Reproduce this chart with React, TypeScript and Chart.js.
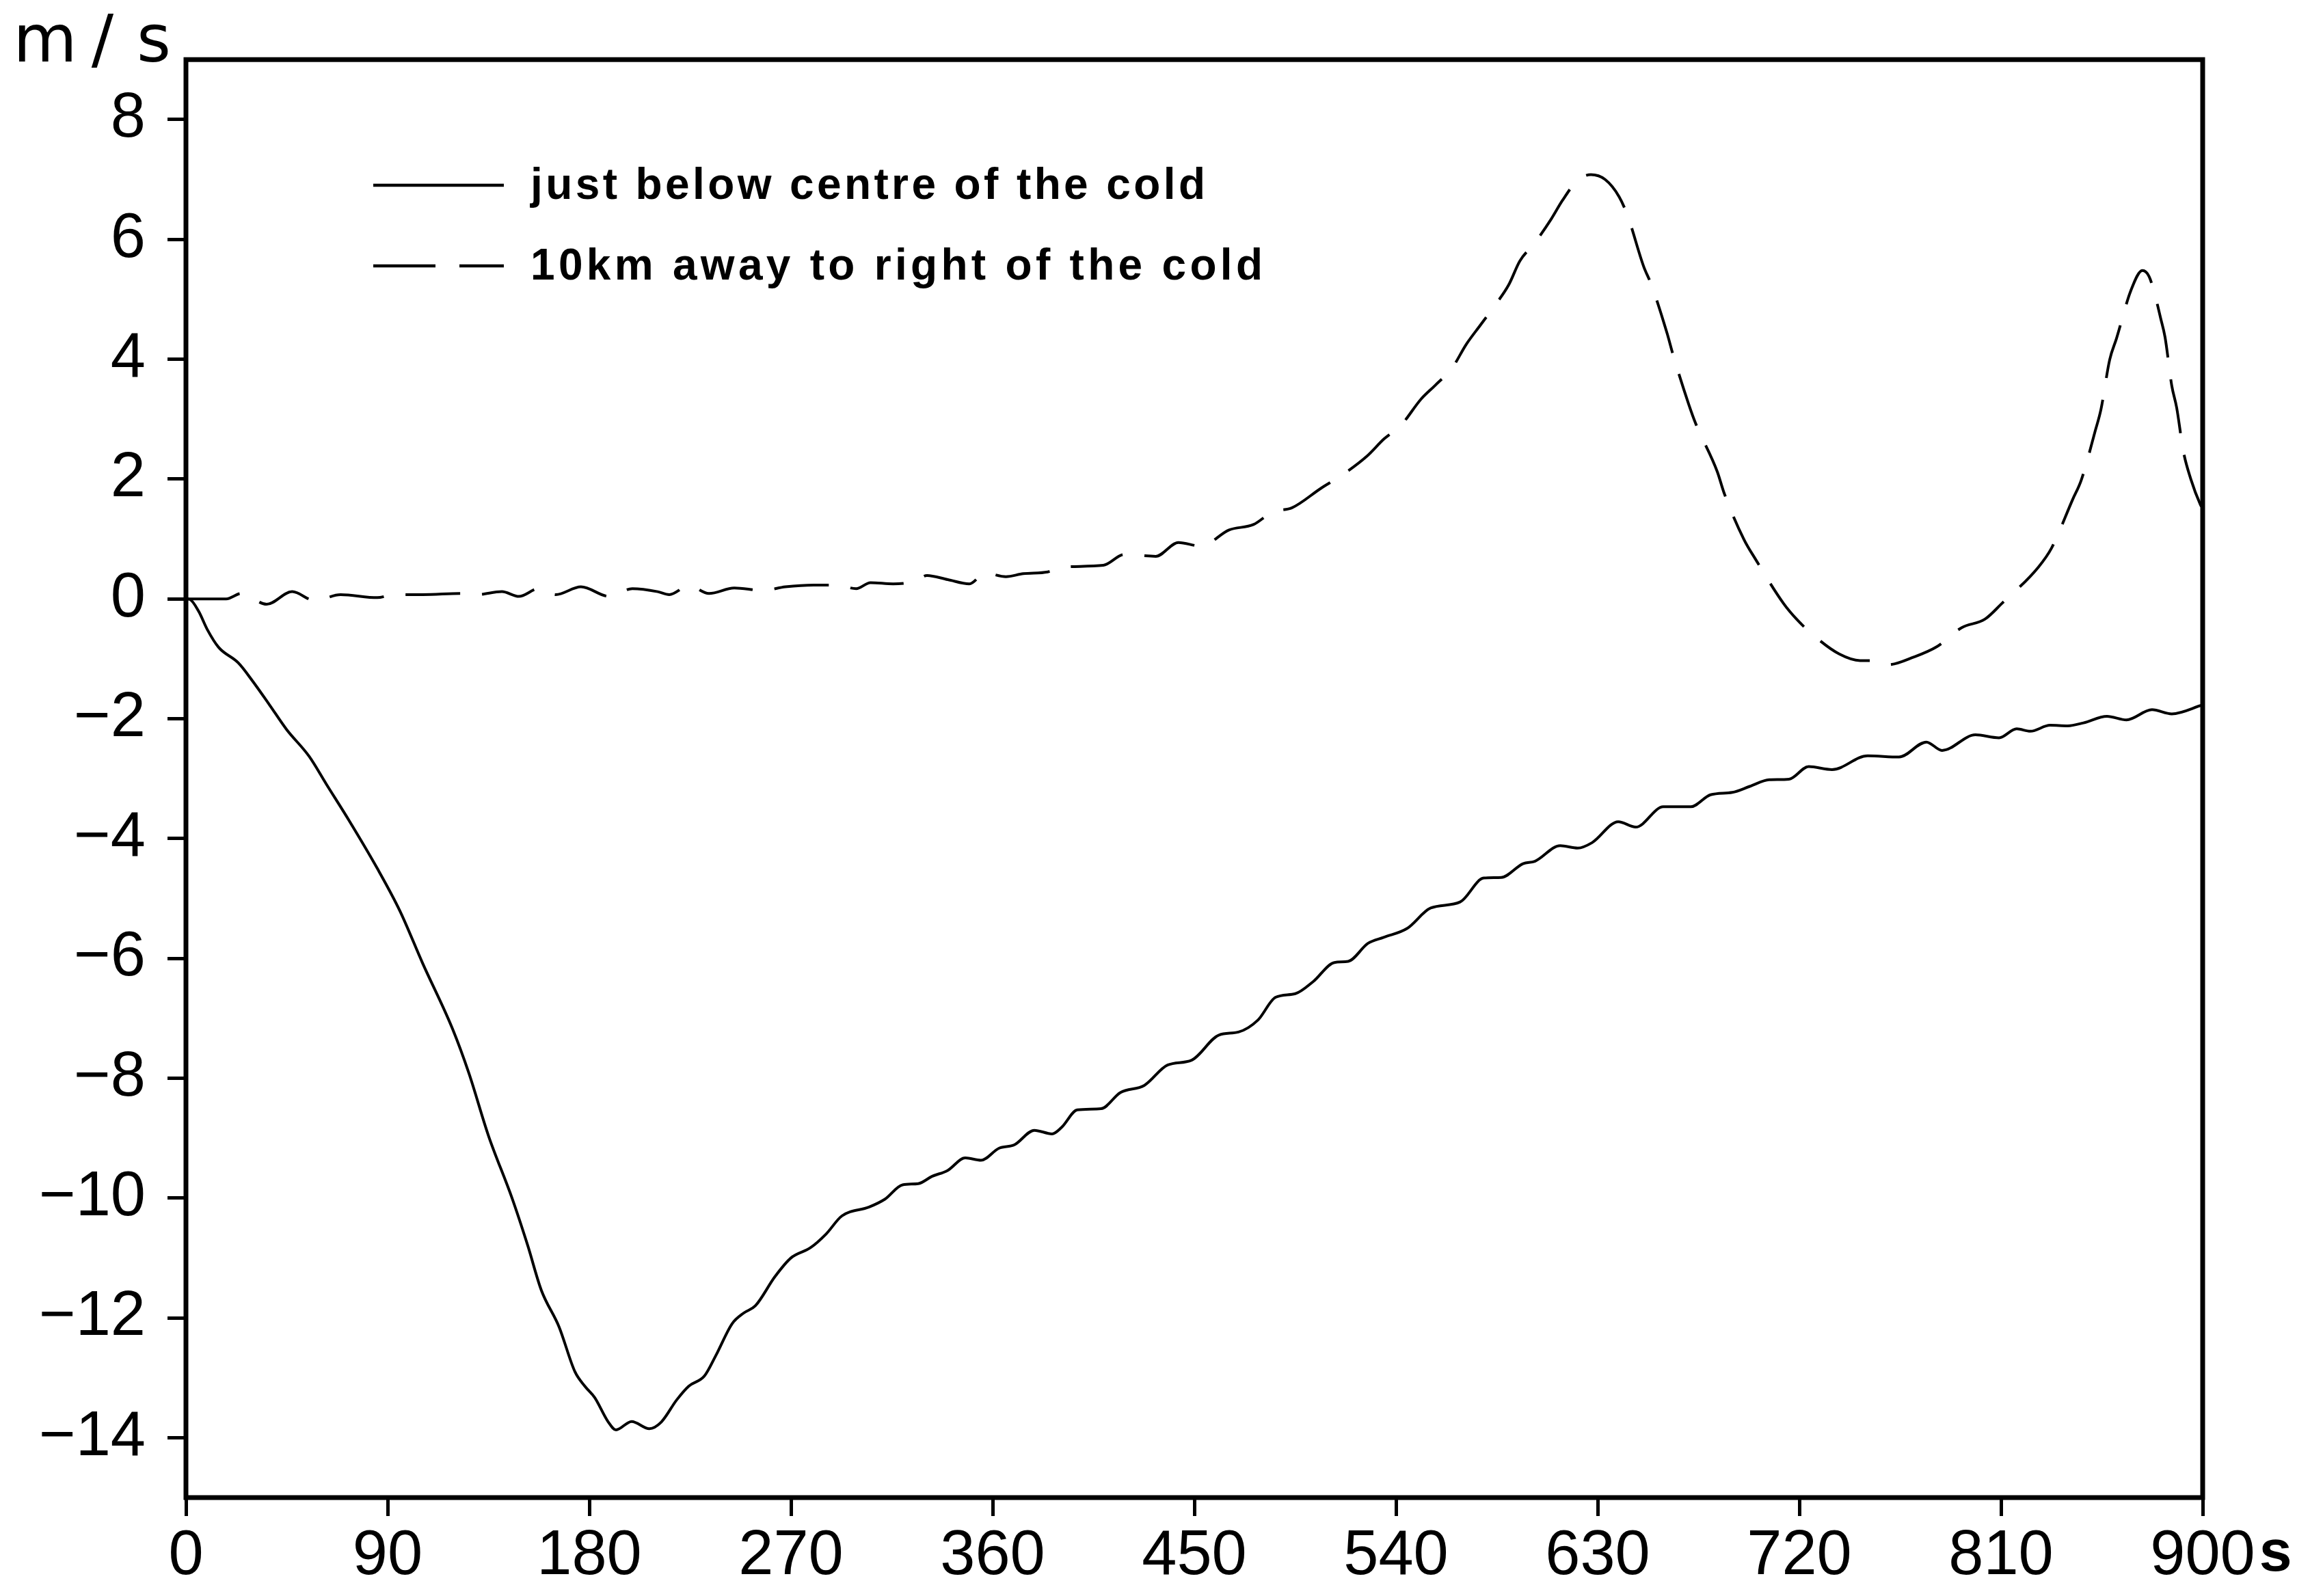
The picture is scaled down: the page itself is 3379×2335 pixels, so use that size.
import { useEffect, useRef } from 'react';
import { Chart, registerables } from 'chart.js';

Chart.register(...registerables);

// ---- data (time in s, speed in m/s) ----
const solidTime = [
  0, 1.8, 5.7, 9.5, 14.6, 23.4, 29.7, 37.3, 44.9, 55, 62.6, 72.8, 85.4, 95.5, 105.6, 119,
  126.3, 135, 145.5, 152.5, 158.6, 166.5, 173.6, 178, 182.4, 188.5, 191.9, 198.9, 206.8, 212.1,
  219, 224.4, 231.4, 236.6, 243.7, 248.9, 254.1, 262.9, 270, 278.7, 285.7, 292.7, 304.9, 311.9,
  319.8, 326.8, 332.9, 339.9, 347.8, 354.8, 362.8, 369.8, 378.6, 386.5, 390.8, 397.8, 408.4,
  417, 427.7, 438.1, 448.8, 461, 469.7, 478.4, 486.3, 495.1, 503, 512.5, 518.7, 527.5, 534.5,
  545, 555.5, 568.6, 579.2, 587, 596.7, 602, 613.3, 621.1, 627.5, 639.2, 647, 659.3, 671.6,
  680.4, 690.1, 697.9, 706.6, 715.4, 724.2, 734.6, 750.5, 764.5, 776.7, 783.7, 798.6, 809.1,
  817, 823.1, 831.9, 839.8, 846.8, 857.3, 866, 877.4, 886.2, 900,
];
const solidSpeed = [
  0, -0.01, -0.21, -0.51, -0.81, -1.07, -1.37, -1.77, -2.18, -2.63, -3.09, -3.7, -4.5, -5.21, -6.08, -7.18,
  -7.92, -8.96, -10.0, -10.79, -11.54, -12.15, -12.9, -13.14, -13.33, -13.74, -13.87, -13.73, -13.85, -13.74,
  -13.37, -13.14, -12.97, -12.62, -12.1, -11.92, -11.8, -11.31, -11.0, -10.83, -10.6, -10.3, -10.15, -10.02,
  -9.78, -9.76, -9.64, -9.54, -9.33, -9.37, -9.17, -9.11, -8.87, -8.93, -8.82, -8.53, -8.51,
  -8.24, -8.12, -7.78, -7.7, -7.28, -7.23, -7.03, -6.65, -6.59, -6.39, -6.07, -6.05, -5.75, -5.65,
  -5.5, -5.16, -5.06, -4.66, -4.65, -4.42, -4.38, -4.12, -4.16, -4.07, -3.72, -3.81, -3.47, -3.47,
  -3.27, -3.23, -3.13, -3.02, -3.01, -2.8, -2.85, -2.62, -2.64, -2.39, -2.53, -2.27, -2.32,
  -2.17, -2.21, -2.11, -2.12, -2.07, -1.96, -2.02, -1.85, -1.92, -1.77,
];

const dashTime = [
  0, 18, 24.7, 36, 47.4, 57.5, 69, 85.4, 93, 105.6, 123.2, 129.7, 141, 148.6, 157.4, 165,
  176.3, 189, 199.2, 210.5, 215.7, 224.5, 233.4, 244.7, 257.5, 267.5, 280.2, 290.3, 299.1,
  305.5, 315.6, 325.7, 330.7, 340, 349.6, 356.6, 365.9, 373.7, 384.6, 390.8, 409.4, 418.8,
  432.8, 442.9, 453, 465.5, 476.4, 484.9, 493.6, 506.7, 515.3, 527, 534.7, 542.3, 551.1,
  557.4, 565, 571.4, 577.7, 584, 590.3, 595.3, 601.7, 609.3, 614.3, 620.7, 627, 633.3, 639.6,
  643.4, 650.5, 654, 661, 663.6, 670.7, 673.7, 683.4, 686.4, 695.3, 700.3, 713, 718.8, 727,
  737.8, 747.1, 753.5, 759.4, 771.2, 781.3, 792.5, 802.8, 810.3, 826.7, 832.6, 842, 845.8,
  852.1, 854.6, 858.5, 861.5, 868, 873.1, 876.1, 879.2, 881.2, 883.2, 886.2, 888.4, 891.4,
  894.7, 899, 900,
];
const dashSpeed = [
  0, 0, 0.09, -0.09, 0.12, -0.03, 0.07, 0.02, 0.07, 0.07, 0.09, 0.07, 0.12, 0.04, 0.17, 0.07,
  0.2, 0.04, 0.17, 0.12, 0.07, 0.22, 0.09, 0.18, 0.14, 0.2, 0.23, 0.23, 0.17,
  0.27, 0.25, 0.3, 0.39, 0.32, 0.25, 0.43, 0.37, 0.42, 0.45, 0.53, 0.56, 0.74,
  0.71, 0.94, 0.88, 1.15, 1.24, 1.45, 1.52, 1.85, 2.05, 2.38, 2.67, 2.9, 3.33,
  3.56, 3.85, 4.25, 4.57, 4.89, 5.24, 5.64, 5.93, 6.34, 6.65, 6.97, 7.08, 7.0, 6.71,
  6.39, 5.55, 5.24, 4.43, 4.08, 3.24, 2.93, 2.12, 1.77, 0.99, 0.67, -0.08, -0.34, -0.63,
  -0.92, -1.03, -1.03, -1.1, -0.97, -0.8, -0.48, -0.34, -0.08, 0.53, 0.85, 1.66, 1.98,
  2.81, 3.16, 3.99, 4.34, 5.15, 5.48, 5.38, 5.0, 4.69, 4.37, 3.56, 3.19, 2.46,
  2.0, 1.57, 1.5,
];

const xTicks = [0, 90, 180, 270, 360, 450, 540, 630, 720, 810, 900];
const yTicks = [-14, -12, -10, -8, -6, -4, -2, 0, 2, 4, 6, 8];
const seriesLabels = ['just below centre of the cold', '10km away to right of the cold'];
const yUnit = 'm/s';
const xUnit = 's';

// ---- styling ----
const W = 3379;
const H = 2335;
const FONT = "'Liberation Sans', Arial, sans-serif";
const TICK_SIZE = 92;
const DASH = [80, 32];

const decorPlugin = {
  id: 'decor',
  afterDraw(chart: any) {
    const { ctx, chartArea: a } = chart;
    ctx.save();
    ctx.strokeStyle = '#000';
    ctx.fillStyle = '#000';
    ctx.lineWidth = 7;
    ctx.setLineDash([]);
    ctx.strokeRect(a.left, a.top, a.right - a.left, a.bottom - a.top);

    // y unit
    ctx.font = `96px 'DejaVu Sans', ${FONT}`;
    ctx.textBaseline = 'alphabetic';
    ctx.textAlign = 'center';
    const chars = yUnit.split('');
    const cx = [66, 150, 225];
    chars.forEach((c, i) => ctx.fillText(c, cx[i], 90));

    // x unit after last tick label
    const xs = chart.scales.x;
    const px = xs.getPixelForValue(xTicks[xTicks.length - 1]);
    ctx.font = `${TICK_SIZE}px ${FONT}`;
    const w = ctx.measureText(String(xTicks[xTicks.length - 1])).width;
    ctx.font = `bold 86px ${FONT}`;
    ctx.textAlign = 'left';
    ctx.fillText(xUnit, px + w / 2 + 6, 2298);

    // legend
    const rows = [
      { y: 271, dash: [] as number[], target: 987 },
      { y: 389, dash: [91, 35], target: 1071 },
    ];
    rows.forEach((r, i) => {
      ctx.lineWidth = 4.5;
      ctx.setLineDash(r.dash);
      ctx.beginPath();
      ctx.moveTo(546, r.y);
      ctx.lineTo(737, r.y);
      ctx.stroke();
      ctx.setLineDash([]);
      ctx.font = `bold 64px ${FONT}`;
      (ctx as any).letterSpacing = '0px';
      const txt = seriesLabels[i];
      const w0 = ctx.measureText(txt).width;
      const sp = Math.max(0, (r.target - w0) / (txt.length - 1));
      (ctx as any).letterSpacing = `${sp}px`;
      ctx.textAlign = 'left';
      ctx.textBaseline = 'middle';
      ctx.fillText(txt, 776, r.y + 2);
      (ctx as any).letterSpacing = '0px';
    });
    ctx.restore();
  },
};

export default function App() {
  const ref = useRef<HTMLCanvasElement | null>(null);

  useEffect(() => {
    document.body.style.margin = '0';
    const canvas = ref.current;
    if (!canvas) return;
    const chart = new Chart(canvas, {
      type: 'line',
      data: {
        datasets: [
          {
            label: seriesLabels[0],
            data: solidTime.map((t, i) => ({ x: t, y: solidSpeed[i] })),
            borderColor: '#000',
            borderWidth: 4,
            pointRadius: 0,
            fill: false,
            cubicInterpolationMode: 'monotone',
          },
          {
            label: seriesLabels[1],
            data: dashTime.map((t, i) => ({ x: t, y: dashSpeed[i] })),
            borderColor: '#000',
            borderWidth: 4,
            borderDash: DASH,
            pointRadius: 0,
            fill: false,
            cubicInterpolationMode: 'monotone',
          },
        ],
      },
      options: {
        animation: false,
        responsive: false,
        devicePixelRatio: 1,
        layout: { padding: { top: 74, right: 157, left: 0, bottom: 0 } },
        plugins: { legend: { display: false }, tooltip: { enabled: false } },
        scales: {
          x: {
            type: 'linear',
            min: 0,
            max: 900,
            afterBuildTicks: (s: any) => {
              s.ticks = xTicks.map((v) => ({ value: v }));
            },
            afterFit: (s: any) => {
              s.height = 144;
            },
            border: { display: false },
            grid: {
              drawOnChartArea: false,
              drawTicks: true,
              tickLength: 27,
              tickWidth: 5,
              tickColor: '#000',
            },
            ticks: {
              color: '#000',
              font: { family: FONT, size: TICK_SIZE },
              padding: 4,
              maxRotation: 0,
              autoSkip: false,
              callback: (v: any) => String(v),
            },
          },
          y: {
            type: 'linear',
            min: -15,
            max: 9,
            afterBuildTicks: (s: any) => {
              s.ticks = yTicks.map((v) => ({ value: v }));
            },
            afterFit: (s: any) => {
              s.width = 272;
            },
            border: { display: false },
            grid: {
              drawOnChartArea: false,
              drawTicks: true,
              tickLength: 27,
              tickWidth: 5,
              tickColor: '#000',
            },
            ticks: {
              color: '#000',
              font: { family: FONT, size: TICK_SIZE },
              padding: 32,
              autoSkip: false,
              callback: (v: any) => (v < 0 ? '\u2212' + Math.abs(v) : String(v)),
            },
          },
        },
      },
      plugins: [decorPlugin],
    } as any);
    return () => chart.destroy();
  }, []);

  return (
    <div style={{ position: 'absolute', left: 0, top: 0, width: W, height: H, background: '#fff' }}>
      <canvas ref={ref} width={W} height={H} style={{ width: W, height: H, display: 'block' }} />
    </div>
  );
}
